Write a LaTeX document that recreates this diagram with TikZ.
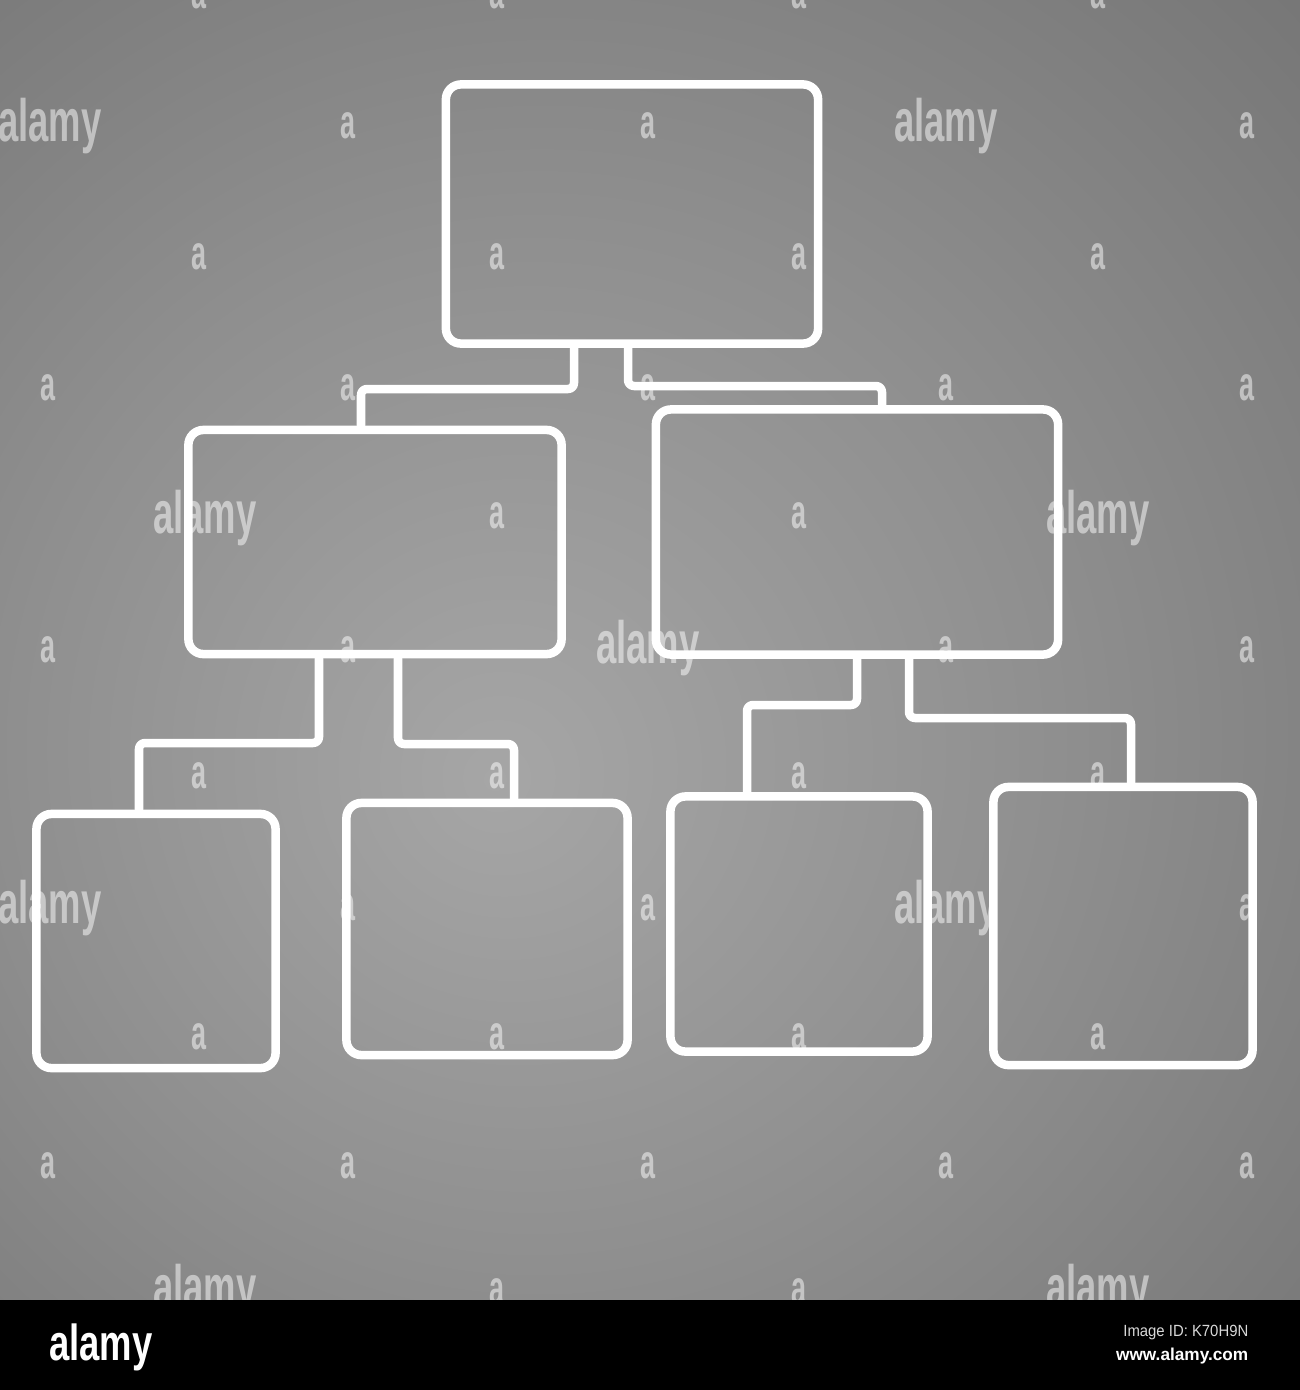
\documentclass[tikz,border=0pt]{standalone}
\usepackage{fontspec}
\setmainfont{Liberation Sans}
\usepackage{graphicx}
\usetikzlibrary{positioning}

\definecolor{wallhi}{HTML}{A6A6A6}
\definecolor{wallmid}{HTML}{8F8F8F}
\definecolor{walllo}{HTML}{6E6E6E}
\definecolor{walldk}{HTML}{595959}
\definecolor{idgray}{HTML}{D8D8D8}
\pgfdeclareradialshading{concrete}{\pgfpoint{-6bp}{-5bp}}{%
  color(0bp)=(wallhi); color(20bp)=(wallmid); color(46bp)=(walllo); color(75bp)=(walldk)}

\newcommand{\squeeze}[2]{\scalebox{#1}[1]{#2}}

\tikzset{
  chart/.style={draw=white, line width=0.085cm, rounded corners=0.15cm, inner sep=0pt},
  wire/.style={draw=white, line width=0.085cm, line cap=round, line join=round, rounded corners=0.06cm},
  stamp/.style={text=white, text opacity=0.5, inner sep=0pt, font=\bfseries\fontsize{13.7}{14}\selectfont},
  bigstamp/.style={stamp, font=\bfseries\fontsize{17}{18}\selectfont}
}

\begin{document}
\begin{tikzpicture}[x=0.01cm, y=-0.01cm]
\useasboundingbox (0,0) rectangle (1300,1390);
% concrete wall
\shade[shading=concrete] (0,0) rectangle (1300,1300);

% watermark grid
\begin{scope}
\clip (0,0) rectangle (1300,1300);
\foreach \x/\y [count=\i] in {348/126,648/126,1247/126,
    48/388,348/388,648/388,946/388,1247/388,
    48/650,348/650,946/650,1247/650,
    348/908,648/908,1247/908,
    48/1166,348/1166,648/1166,946/1166,1247/1166,
    199/-4,497/-4,799/-4,1098/-4,
    199/257,497/257,799/257,1098/257,
    497/516,799/516,
    199/776,497/776,799/776,1098/776,
    199/1037,497/1037,799/1037,1098/1037,
    497/1292,799/1292}
  \node[stamp] (wa\i) at (\x,\y) {\squeeze{0.56}{a}};
\foreach \x/\y [count=\i] in {50/126,946/126,205/518,1098/518,648/648,
    50/908,946/908,205/1292,1098/1292}
  \node[bigstamp] (wl\i) at (\x,\y) {\squeeze{0.61}{alamy}};
\end{scope}

% boxes
\node[chart, minimum width=3.72cm, minimum height=2.59cm] (head) at (632,214) {};
\node[chart, minimum width=3.73cm, minimum height=2.24cm] (sub1) at (375,542) {};
\node[chart, minimum width=4.02cm, minimum height=2.45cm] (sub2) at (857,532) {};
\node[chart, minimum width=2.39cm, minimum height=2.54cm] (leaf1) at (156,941) {};
\node[chart, minimum width=2.81cm, minimum height=2.52cm] (leaf2) at (487,929) {};
\node[chart, minimum width=2.57cm, minimum height=2.55cm] (leaf3) at (799,924) {};
\node[chart, minimum width=2.59cm, minimum height=2.78cm] (leaf4) at (1123,926) {};

% connectors
\draw[wire] (head.south -| 574,0) -- (574,389) -| (sub1.north -| 361,0);
\draw[wire] (head.south -| 628,0) -- (628,386) -| (sub2.north -| 882,0);
\draw[wire] (sub1.south -| 319,0) -- (319,743) -| (leaf1.north -| 139,0);
\draw[wire] (sub1.south -| 398,0) -- (398,744) -| (leaf2.north -| 514,0);
\draw[wire] (sub2.south -| 857,0) -- (857,705) -| (leaf3.north -| 747,0);
\draw[wire] (sub2.south -| 909,0) -- (909,718) -| (leaf4.north -| 1131,0);

% credit band
\fill[black] (0,1300) rectangle (1300,1390);
\node[text=white, inner sep=0pt, font=\bfseries\fontsize{14.4}{15}\selectfont] (logo) at (101,1347) {\squeeze{0.72}{alamy}};
\node[anchor=east, text=idgray, inner sep=0pt, font=\fontsize{4.6}{5}\selectfont] (imgid) at (1249,1333) {\squeeze{0.92}{Image ID: K70H9N}};
\node[anchor=east, text=white, inner sep=0pt, font=\bfseries\fontsize{4.9}{5}\selectfont] (site) at (1249,1356) {www.alamy.com};
\end{tikzpicture}
\end{document}
